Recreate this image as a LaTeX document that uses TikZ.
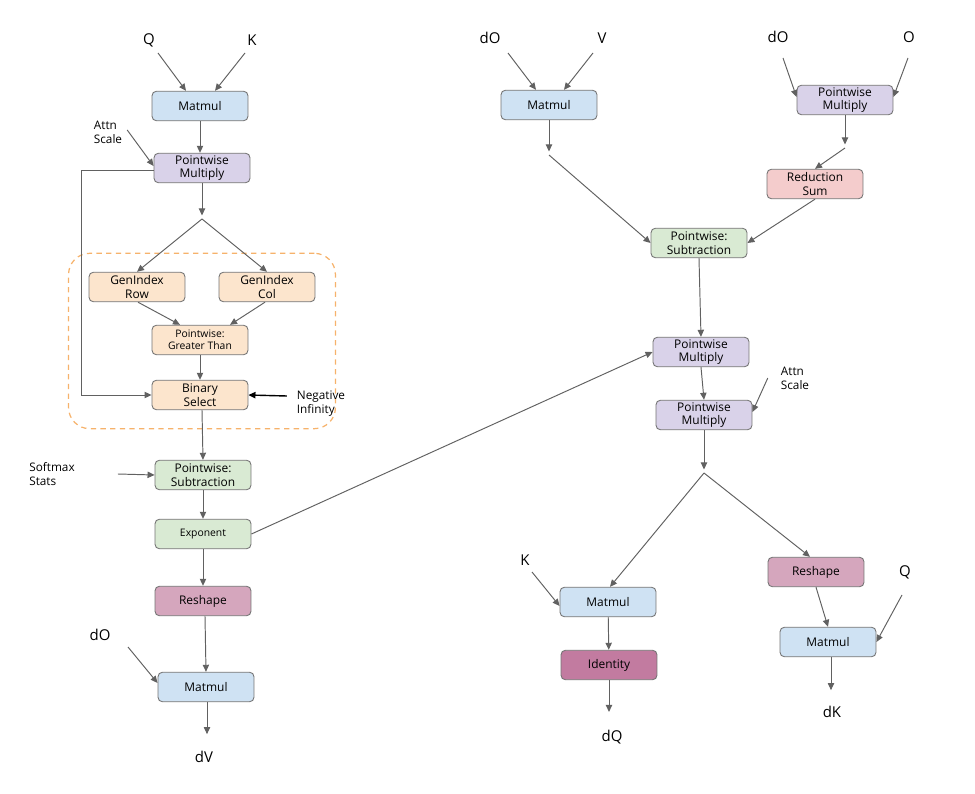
\documentclass[tikz,border=0pt]{standalone}
\usepackage{fontspec}
\setmainfont{Open Sans}
\usetikzlibrary{arrows.meta,positioning,calc,fit}
\definecolor{mmblue}{HTML}{CFE2F3}
\definecolor{pwlilac}{HTML}{D9D2E9}
\definecolor{giorange}{HTML}{FCE5CD}
\definecolor{sbgreen}{HTML}{D9EAD3}
\definecolor{rspink}{HTML}{D5A6BD}
\definecolor{idmagenta}{HTML}{C27BA0}
\definecolor{rdred}{HTML}{F4CCCC}
\definecolor{maskorange}{HTML}{F6B26B}

\begin{document}
\begin{tikzpicture}[x=0.02cm,y=-0.02cm,
  op/.style={draw=black!55,line width=0.5pt,rounded corners=2.5pt,minimum width=1.92cm,minimum height=0.59cm,
    align=center,inner sep=1pt,font=\fontsize{6.8}{7.8}\selectfont},
  mm/.style={op,fill=mmblue},
  pw/.style={op,fill=pwlilac},
  gi/.style={op,fill=giorange},
  sb/.style={op,fill=sbgreen},
  rs/.style={op,fill=rspink},
  idn/.style={op,fill=idmagenta},
  rd/.style={op,fill=rdred},
  tiny/.style={font=\fontsize{5.9}{7}\selectfont},
  io/.style={font=\fontsize{8.5}{10}\selectfont,inner sep=1pt},
  lbl/.style={font=\fontsize{6.7}{8}\selectfont,align=left,inner sep=1pt},
  mask/.style={draw=maskorange,dashed,dash pattern=on 3pt off 2.5pt,line width=0.7pt,rounded corners=12pt,
    inner xsep=0.4cm,inner ysep=0.37cm},
  arr/.style={draw=black!62,line width=0.55pt,-{Triangle[length=4pt,width=3.6pt]}},
  negarr/.style={draw=black,line width=0.8pt}]
\useasboundingbox (0,0) rectangle (975,794);

% dV branch
\node[io] (q1) at (149,40) {Q};
\node[io] (k1) at (252,40) {K};
\node[mm] (mmqk) at (200,106) {Matmul};
\node[lbl] (att1) at (108,132) {Attn\\Scale};
\node[pw] (pm1) at (202,168) {Pointwise\\Multiply};
\coordinate (j1) at (202,219);
\node[gi] (gir) at (137,287) {GenIndex\\Row};
\node[gi] (gic) at (267,287) {GenIndex\\Col};
\node[gi,tiny] (gt) at (200,340) {Pointwise:\\Greater Than};
\node[gi] (bsel) at (200,395) {Binary\\Select};
\node[mask,fit=(gir)(gic)(bsel)] (maskbox) {};
\node[lbl] (ninf) at (321,404) {Negative\\Infinity};
\node[lbl] (smx) at (52,474) {Softmax\\Stats};
\node[sb] (sub1) at (203,475) {Pointwise:\\Subtraction};
\node[sb,tiny] (expo) at (203,534) {Exponent};
\node[rs] (rsh1) at (203,601) {Reshape};
\node[io] (do1) at (100,635) {dO};
\node[mm] (mmv) at (206,687) {Matmul};
\node[io] (dv) at (204,757) {dV};

% dQ / dK branch
\node[io] (do2) at (490,38) {dO};
\node[io] (v2) at (602,38) {V};
\node[mm] (mmov) at (549,105) {Matmul};
\coordinate (j2) at (549,155);
\node[io] (do3) at (778,37) {dO};
\node[io] (o3) at (909,37) {O};
\node[pw] (pm4) at (845,100) {Pointwise\\Multiply};
\coordinate (j3) at (845,148);
\node[rd] (rsum) at (815,184) {Reduction\\Sum};
\node[sb] (sub2) at (699,243) {Pointwise:\\Subtraction};
\node[pw] (pm2) at (701,352) {Pointwise\\Multiply};
\node[lbl] (att2) at (795,378) {Attn\\Scale};
\node[pw] (pm3) at (704,415) {Pointwise\\Multiply};
\coordinate (j4) at (704,473);
\node[io] (k4) at (525,560) {K};
\node[mm] (mmk) at (608,602) {Matmul};
\node[idn] (iden) at (609,665) {Identity};
\node[io] (dq) at (612,737) {dQ};
\node[rs] (rsh2) at (816,572) {Reshape};
\node[io] (q4) at (905,572) {Q};
\node[mm] (mmq) at (828,642) {Matmul};
\node[io] (dk) at (832,712) {dK};

\draw[arr] ($(q1)+(9,13)$) -- ($(mmqk.north)+(-14,0)$);
\draw[arr] ($(k1)+(-7,13)$) -- ($(mmqk.north)+(15,0)$);
\draw[arr] (mmqk.south) -- (mmqk.south |- pm1.north);
\draw[arr] ($(att1.east)+(3,-2)$) -- ($(pm1.west)+(0,-2)$);
\draw[arr,shorten >=2pt] (pm1.south) -- (j1);
\draw[arr] (j1) -- (gir.north);
\draw[arr] (j1) -- (gic.north);
\draw[arr] ($(gir.south)+(1,0)$) -- ($(gt.north)+(-20,0)$);
\draw[arr] ($(gic.south)+(-2,0)$) -- ($(gt.north)+(30,0)$);
\draw[arr] (gt) -- (bsel);
\draw[arr] ($(pm1.west)+(0,2)$) -- ++(-72,0) |- (bsel.west);
\draw[arr,negarr] ($(ninf.west)+(-8,-8)$) -- (bsel.east);
\draw[arr] ($(bsel.south)+(2,0)$) -- (sub1.north);
\draw[arr] ($(smx.east)+(41,0)$) -- (sub1.west);
\draw[arr] (sub1) -- (expo);
\draw[arr] (expo) -- (rsh1);
\draw[arr] (expo.east) -- (pm2.west);
\draw[arr] ($(rsh1.south)+(2,0)$) -- (mmv.north);
\draw[arr] ($(do1)+(28,12)$) -- ($(mmv.west)+(0,-4)$);
\draw[arr] ($(mmv.south)+(1,0)$) -- ($(mmv.south |- dv.north)+(1,-15)$);

\draw[arr] ($(do2)+(18,15)$) -- ($(mmov.north)+(-13,0)$);
\draw[arr] ($(v2)+(-9,15)$) -- ($(mmov.north)+(15,0)$);
\draw[arr,shorten >=2pt] (mmov.south) -- (j2);
\draw[arr] (j2) -- (sub2.west);
\draw[arr] ($(do3)+(5,21)$) -- ($(pm4.west)+(0,-3)$);
\draw[arr] ($(o3)+(-1,21)$) -- ($(pm4.east)+(0,-3)$);
\draw[arr,shorten >=2pt] (pm4.south) -- (j3);
\draw[arr] (j3) -- (rsum.north);
\draw[arr] (rsum.south) -- (sub2.east);
\draw[arr] (sub2.south) -- (pm2.north);
\draw[arr] (pm2.south) -- (pm3.north);
\draw[arr] ($(att2.west)+(-11,0)$) -- ($(pm3.east)+(0,-3)$);
\draw[arr,shorten >=2pt] (pm3.south) -- (j4);
\draw[arr] (j4) -- ($(mmk.north)+(2,0)$);
\draw[arr] (j4) -- ($(rsh2.north)+(-6,0)$);
\draw[arr] ($(k4)+(7,12)$) -- ($(mmk.west)+(0,4)$);
\draw[arr] (mmk) -- (iden);
\draw[arr] (iden.south) -- ($(iden.south |- dq.north)+(0,-16)$);
\draw[arr] (rsh2.south) -- (mmq.north);
\draw[arr] ($(q4)+(-3,23)$) -- (mmq.east);
\draw[arr] ($(mmq.south)+(3,0)$) -- ($(mmq.south |- dk.north)+(3,-14)$);
\end{tikzpicture}
\end{document}
